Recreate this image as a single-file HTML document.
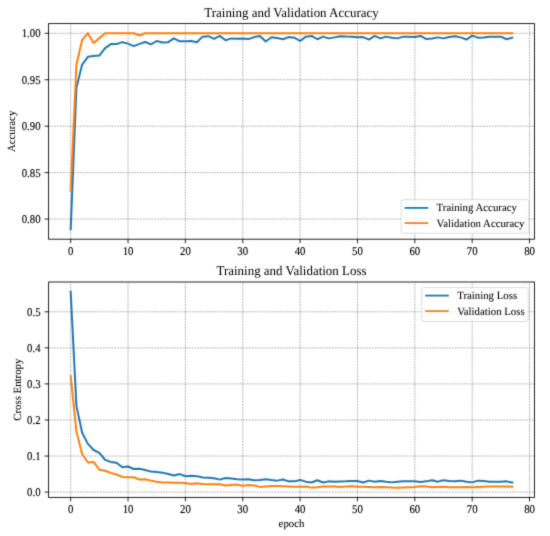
<!DOCTYPE html>
<html><head><meta charset="utf-8"><title>Training and Validation Accuracy and Loss</title>
<style>html,body{margin:0;padding:0;background:#fff;}body{width:550px;height:536px;overflow:hidden;}svg{display:block;}</style>
</head><body>
<svg width="550" height="536" viewBox="0 0 550 536" text-rendering="geometricPrecision"><defs><filter id="soft" x="0" y="0" width="550" height="536" filterUnits="userSpaceOnUse" color-interpolation-filters="sRGB"><feConvolveMatrix order="3" kernelMatrix="0.02 0.09 0.02 0.09 0.56 0.09 0.02 0.09 0.02" edgeMode="duplicate"/></filter></defs><g filter="url(#soft)"><rect width="550" height="536" fill="#fff"/><g stroke="#6c6c6c" stroke-width="0.54" stroke-dasharray="1.8 1.06"><line x1="70.68" y1="239.2" x2="70.68" y2="23.6"/><line x1="128.04" y1="239.2" x2="128.04" y2="23.6"/><line x1="185.39" y1="239.2" x2="185.39" y2="23.6"/><line x1="242.75" y1="239.2" x2="242.75" y2="23.6"/><line x1="300.10" y1="239.2" x2="300.10" y2="23.6"/><line x1="357.45" y1="239.2" x2="357.45" y2="23.6"/><line x1="414.81" y1="239.2" x2="414.81" y2="23.6"/><line x1="472.17" y1="239.2" x2="472.17" y2="23.6"/><line x1="529.52" y1="239.2" x2="529.52" y2="23.6"/><line x1="48.6" y1="219.05" x2="534.4" y2="219.05"/><line x1="48.6" y1="172.61" x2="534.4" y2="172.61"/><line x1="48.6" y1="126.17" x2="534.4" y2="126.17"/><line x1="48.6" y1="79.74" x2="534.4" y2="79.74"/><line x1="48.6" y1="33.30" x2="534.4" y2="33.30"/></g>
<polyline points="70.68,229.40 76.42,87.69 82.15,64.55 87.89,56.79 93.62,56.04 99.36,55.60 105.09,48.13 110.83,44.10 116.56,44.10 122.30,42.16 128.04,43.62 133.77,46.09 139.51,43.91 145.24,42.02 150.98,44.35 156.71,41.00 162.45,42.45 168.18,42.16 173.92,38.38 179.65,41.29 185.39,41.29 191.13,41.00 196.86,42.16 202.60,36.64 208.33,36.20 214.07,38.82 219.80,35.91 225.54,40.27 231.27,38.38 237.01,38.82 242.75,38.53 248.48,39.11 254.22,37.07 259.95,35.91 265.69,41.44 271.42,37.22 277.16,38.09 282.89,39.25 288.63,37.07 294.36,37.65 300.10,41.00 305.84,36.64 311.57,35.91 317.31,39.25 323.04,36.64 328.78,38.38 334.51,37.36 340.25,36.20 345.98,36.49 351.72,36.64 357.45,37.36 363.19,37.07 368.93,39.55 374.66,35.91 380.40,38.38 386.13,36.64 391.87,37.65 397.60,38.38 403.34,36.64 409.07,36.64 414.81,37.07 420.55,35.91 426.28,39.11 432.02,38.53 437.75,37.36 443.49,38.38 449.22,36.93 454.96,36.20 460.69,37.36 466.43,39.55 472.17,35.62 477.90,37.65 483.64,37.51 489.37,36.64 495.11,36.64 500.84,36.64 506.58,39.25 512.31,37.65" fill="none" stroke="#1f77b4" stroke-width="2.0" stroke-linejoin="round" stroke-linecap="square"/>
<polyline points="70.68,190.70 76.42,64.55 82.15,39.93 87.89,33.21 93.62,42.91 99.36,38.13 105.09,33.30 110.83,33.30 116.56,33.30 122.30,33.30 128.04,33.30 133.77,33.30 139.51,35.50 145.24,33.30 150.98,33.30 156.71,33.30 162.45,33.30 168.18,33.30 173.92,33.30 179.65,33.30 185.39,33.30 191.13,33.30 196.86,33.30 202.60,33.30 208.33,33.30 214.07,33.30 219.80,33.30 225.54,33.30 231.27,33.30 237.01,33.30 242.75,33.30 248.48,33.30 254.22,33.30 259.95,33.30 265.69,33.30 271.42,33.30 277.16,33.30 282.89,33.30 288.63,33.30 294.36,33.30 300.10,33.30 305.84,33.30 311.57,33.30 317.31,33.30 323.04,33.30 328.78,33.30 334.51,33.30 340.25,33.30 345.98,33.30 351.72,33.30 357.45,33.30 363.19,33.30 368.93,33.30 374.66,33.30 380.40,33.30 386.13,33.30 391.87,33.30 397.60,33.30 403.34,33.30 409.07,33.30 414.81,33.30 420.55,33.30 426.28,33.30 432.02,33.30 437.75,33.30 443.49,33.30 449.22,33.30 454.96,33.30 460.69,33.30 466.43,33.30 472.17,33.30 477.90,33.30 483.64,33.30 489.37,33.30 495.11,33.30 500.84,33.30 506.58,33.30 512.31,33.30" fill="none" stroke="#ff7f0e" stroke-width="2.0" stroke-linejoin="round" stroke-linecap="square"/>
<rect x="401.2" y="199.6" width="127.59999999999997" height="33.599999999999994" rx="2.2" ry="2.2" fill="#fff" fill-opacity="0.8" stroke="#cccccc" stroke-opacity="0.8" stroke-width="0.86"/>
<line x1="405.50" y1="207.9" x2="427.30" y2="207.9" stroke="#1f77b4" stroke-width="1.8" stroke-linecap="square"/>
<text transform="translate(436.60,211.40) scale(1,1.02)" style="font-family:'Liberation Serif','Times New Roman',serif;font-size:10.8px" stroke="#000" stroke-width="0.05">Training Accuracy</text>
<line x1="405.50" y1="223.1" x2="427.30" y2="223.1" stroke="#ff7f0e" stroke-width="1.8" stroke-linecap="square"/>
<text transform="translate(436.60,226.60) scale(1,1.02)" style="font-family:'Liberation Serif','Times New Roman',serif;font-size:10.8px" stroke="#000" stroke-width="0.05">Validation Accuracy</text>
<rect x="48.6" y="23.6" width="485.80" height="215.60" fill="none" stroke="#000" stroke-width="0.86"/>
<g stroke="#000" stroke-width="0.86"><line x1="70.68" y1="239.2" x2="70.68" y2="243.20"/><line x1="128.04" y1="239.2" x2="128.04" y2="243.20"/><line x1="185.39" y1="239.2" x2="185.39" y2="243.20"/><line x1="242.75" y1="239.2" x2="242.75" y2="243.20"/><line x1="300.10" y1="239.2" x2="300.10" y2="243.20"/><line x1="357.45" y1="239.2" x2="357.45" y2="243.20"/><line x1="414.81" y1="239.2" x2="414.81" y2="243.20"/><line x1="472.17" y1="239.2" x2="472.17" y2="243.20"/><line x1="529.52" y1="239.2" x2="529.52" y2="243.20"/><line x1="44.60" y1="219.05" x2="48.6" y2="219.05"/><line x1="44.60" y1="172.61" x2="48.6" y2="172.61"/><line x1="44.60" y1="126.17" x2="48.6" y2="126.17"/><line x1="44.60" y1="79.74" x2="48.6" y2="79.74"/><line x1="44.60" y1="33.30" x2="48.6" y2="33.30"/></g>
<g fill="#000"><text transform="translate(70.68,254.50) scale(1,1.1)" text-anchor="middle" style="font-family:'Liberation Serif','Times New Roman',serif;font-size:10.8px" stroke="#000" stroke-width="0.12">0</text><text transform="translate(128.04,254.50) scale(1,1.1)" text-anchor="middle" style="font-family:'Liberation Serif','Times New Roman',serif;font-size:10.8px" stroke="#000" stroke-width="0.12">10</text><text transform="translate(185.39,254.50) scale(1,1.1)" text-anchor="middle" style="font-family:'Liberation Serif','Times New Roman',serif;font-size:10.8px" stroke="#000" stroke-width="0.12">20</text><text transform="translate(242.75,254.50) scale(1,1.1)" text-anchor="middle" style="font-family:'Liberation Serif','Times New Roman',serif;font-size:10.8px" stroke="#000" stroke-width="0.12">30</text><text transform="translate(300.10,254.50) scale(1,1.1)" text-anchor="middle" style="font-family:'Liberation Serif','Times New Roman',serif;font-size:10.8px" stroke="#000" stroke-width="0.12">40</text><text transform="translate(357.45,254.50) scale(1,1.1)" text-anchor="middle" style="font-family:'Liberation Serif','Times New Roman',serif;font-size:10.8px" stroke="#000" stroke-width="0.12">50</text><text transform="translate(414.81,254.50) scale(1,1.1)" text-anchor="middle" style="font-family:'Liberation Serif','Times New Roman',serif;font-size:10.8px" stroke="#000" stroke-width="0.12">60</text><text transform="translate(472.17,254.50) scale(1,1.1)" text-anchor="middle" style="font-family:'Liberation Serif','Times New Roman',serif;font-size:10.8px" stroke="#000" stroke-width="0.12">70</text><text transform="translate(529.52,254.50) scale(1,1.1)" text-anchor="middle" style="font-family:'Liberation Serif','Times New Roman',serif;font-size:10.8px" stroke="#000" stroke-width="0.12">80</text><text transform="translate(40.54,222.95) scale(1,1.1)" text-anchor="end" style="font-family:'Liberation Serif','Times New Roman',serif;font-size:10.8px" stroke="#000" stroke-width="0.12">0.80</text><text transform="translate(40.54,176.51) scale(1,1.1)" text-anchor="end" style="font-family:'Liberation Serif','Times New Roman',serif;font-size:10.8px" stroke="#000" stroke-width="0.12">0.85</text><text transform="translate(40.54,130.07) scale(1,1.1)" text-anchor="end" style="font-family:'Liberation Serif','Times New Roman',serif;font-size:10.8px" stroke="#000" stroke-width="0.12">0.90</text><text transform="translate(40.54,83.64) scale(1,1.1)" text-anchor="end" style="font-family:'Liberation Serif','Times New Roman',serif;font-size:10.8px" stroke="#000" stroke-width="0.12">0.95</text><text transform="translate(40.54,37.20) scale(1,1.1)" text-anchor="end" style="font-family:'Liberation Serif','Times New Roman',serif;font-size:10.8px" stroke="#000" stroke-width="0.12">1.00</text></g>
<text transform="translate(291.50,16.90) scale(1,1.02)" text-anchor="middle" style="font-family:'Liberation Serif','Times New Roman',serif;font-size:12.96px" stroke="#000" stroke-width="0">Training and Validation Accuracy</text>
<text transform="translate(14.90,131.40) rotate(-90) scale(1,1.02)" text-anchor="middle" style="font-family:'Liberation Serif','Times New Roman',serif;font-size:10.8px" stroke="#000" stroke-width="0.05">Accuracy</text>
<g stroke="#6c6c6c" stroke-width="0.54" stroke-dasharray="1.8 1.06"><line x1="70.68" y1="497.4" x2="70.68" y2="282.0"/><line x1="128.04" y1="497.4" x2="128.04" y2="282.0"/><line x1="185.39" y1="497.4" x2="185.39" y2="282.0"/><line x1="242.75" y1="497.4" x2="242.75" y2="282.0"/><line x1="300.10" y1="497.4" x2="300.10" y2="282.0"/><line x1="357.45" y1="497.4" x2="357.45" y2="282.0"/><line x1="414.81" y1="497.4" x2="414.81" y2="282.0"/><line x1="472.17" y1="497.4" x2="472.17" y2="282.0"/><line x1="529.52" y1="497.4" x2="529.52" y2="282.0"/><line x1="48.6" y1="492.10" x2="534.4" y2="492.10"/><line x1="48.6" y1="456.04" x2="534.4" y2="456.04"/><line x1="48.6" y1="419.98" x2="534.4" y2="419.98"/><line x1="48.6" y1="383.92" x2="534.4" y2="383.92"/><line x1="48.6" y1="347.86" x2="534.4" y2="347.86"/><line x1="48.6" y1="311.80" x2="534.4" y2="311.80"/></g>
<polyline points="70.68,291.80 76.42,405.90 82.15,432.80 87.89,443.90 93.62,450.00 99.36,452.90 105.09,459.90 110.83,461.90 116.56,462.80 122.30,467.30 128.04,466.53 133.77,469.00 139.51,468.71 145.24,470.02 150.98,471.62 156.71,472.05 162.45,472.64 168.18,474.09 173.92,475.55 179.65,474.09 185.39,476.27 191.13,475.84 196.86,476.13 202.60,477.44 208.33,477.73 214.07,478.16 219.80,479.62 225.54,478.02 231.27,478.45 237.01,479.33 242.75,479.62 248.48,479.33 254.22,480.35 259.95,479.91 265.69,479.18 271.42,480.05 277.16,480.64 282.89,479.47 288.63,481.36 294.36,481.36 300.10,479.91 305.84,481.65 311.57,482.53 317.31,480.20 323.04,482.53 328.78,481.36 334.51,481.65 340.25,481.51 345.98,481.36 351.72,481.07 357.45,481.07 363.19,482.53 368.93,480.64 374.66,481.80 380.40,480.93 386.13,481.80 391.87,482.38 397.60,481.80 403.34,481.36 409.07,481.22 414.81,481.36 420.55,482.09 426.28,481.36 432.02,480.35 437.75,481.65 443.49,480.20 449.22,481.07 454.96,481.36 460.69,480.64 466.43,481.80 472.17,482.38 477.90,480.64 483.64,481.07 489.37,481.80 495.11,481.65 500.84,481.65 506.58,481.36 512.31,482.53" fill="none" stroke="#1f77b4" stroke-width="2.0" stroke-linejoin="round" stroke-linecap="square"/>
<polyline points="70.68,376.00 76.42,431.60 82.15,454.00 87.89,462.50 93.62,461.90 99.36,469.70 105.09,470.70 110.83,472.90 116.56,474.50 122.30,476.90 128.04,477.29 133.77,477.29 139.51,479.62 145.24,479.18 150.98,480.64 156.71,481.80 162.45,482.38 168.18,482.38 173.92,482.82 179.65,482.82 185.39,483.11 191.13,483.98 196.86,483.25 202.60,483.98 208.33,484.13 214.07,484.27 219.80,484.27 225.54,485.44 231.27,485.00 237.01,484.56 242.75,485.73 248.48,485.00 254.22,485.44 259.95,486.89 265.69,486.45 271.42,486.02 277.16,486.02 282.89,486.16 288.63,486.45 294.36,486.75 300.10,486.75 305.84,486.45 311.57,487.62 317.31,487.18 323.04,486.45 328.78,486.45 334.51,486.45 340.25,486.89 345.98,486.60 351.72,486.16 357.45,486.75 363.19,486.75 368.93,486.89 374.66,487.18 380.40,486.89 386.13,487.18 391.87,487.62 397.60,487.76 403.34,487.47 409.07,487.18 414.81,487.04 420.55,486.31 426.28,486.60 432.02,487.18 437.75,486.89 443.49,486.75 449.22,487.18 454.96,487.33 460.69,487.18 466.43,487.04 472.17,487.18 477.90,486.89 483.64,486.75 489.37,486.60 495.11,486.45 500.84,486.45 506.58,486.45 512.31,486.60" fill="none" stroke="#ff7f0e" stroke-width="2.0" stroke-linejoin="round" stroke-linecap="square"/>
<rect x="421.8" y="287.6" width="106.40000000000003" height="33.89999999999998" rx="2.2" ry="2.2" fill="#fff" fill-opacity="0.8" stroke="#cccccc" stroke-opacity="0.8" stroke-width="0.86"/>
<line x1="426.10" y1="295.6" x2="447.90" y2="295.6" stroke="#1f77b4" stroke-width="1.8" stroke-linecap="square"/>
<text transform="translate(457.20,299.30) scale(1,1.02)" style="font-family:'Liberation Serif','Times New Roman',serif;font-size:10.8px" stroke="#000" stroke-width="0.05">Training Loss</text>
<line x1="426.10" y1="311.1" x2="447.90" y2="311.1" stroke="#ff7f0e" stroke-width="1.8" stroke-linecap="square"/>
<text transform="translate(457.20,314.50) scale(1,1.02)" style="font-family:'Liberation Serif','Times New Roman',serif;font-size:10.8px" stroke="#000" stroke-width="0.05">Validation Loss</text>
<rect x="48.6" y="282.0" width="485.80" height="215.40" fill="none" stroke="#000" stroke-width="0.86"/>
<g stroke="#000" stroke-width="0.86"><line x1="70.68" y1="497.4" x2="70.68" y2="501.40"/><line x1="128.04" y1="497.4" x2="128.04" y2="501.40"/><line x1="185.39" y1="497.4" x2="185.39" y2="501.40"/><line x1="242.75" y1="497.4" x2="242.75" y2="501.40"/><line x1="300.10" y1="497.4" x2="300.10" y2="501.40"/><line x1="357.45" y1="497.4" x2="357.45" y2="501.40"/><line x1="414.81" y1="497.4" x2="414.81" y2="501.40"/><line x1="472.17" y1="497.4" x2="472.17" y2="501.40"/><line x1="529.52" y1="497.4" x2="529.52" y2="501.40"/><line x1="44.60" y1="492.10" x2="48.6" y2="492.10"/><line x1="44.60" y1="456.04" x2="48.6" y2="456.04"/><line x1="44.60" y1="419.98" x2="48.6" y2="419.98"/><line x1="44.60" y1="383.92" x2="48.6" y2="383.92"/><line x1="44.60" y1="347.86" x2="48.6" y2="347.86"/><line x1="44.60" y1="311.80" x2="48.6" y2="311.80"/></g>
<g fill="#000"><text transform="translate(70.68,512.80) scale(1,1.1)" text-anchor="middle" style="font-family:'Liberation Serif','Times New Roman',serif;font-size:10.8px" stroke="#000" stroke-width="0.12">0</text><text transform="translate(128.04,512.80) scale(1,1.1)" text-anchor="middle" style="font-family:'Liberation Serif','Times New Roman',serif;font-size:10.8px" stroke="#000" stroke-width="0.12">10</text><text transform="translate(185.39,512.80) scale(1,1.1)" text-anchor="middle" style="font-family:'Liberation Serif','Times New Roman',serif;font-size:10.8px" stroke="#000" stroke-width="0.12">20</text><text transform="translate(242.75,512.80) scale(1,1.1)" text-anchor="middle" style="font-family:'Liberation Serif','Times New Roman',serif;font-size:10.8px" stroke="#000" stroke-width="0.12">30</text><text transform="translate(300.10,512.80) scale(1,1.1)" text-anchor="middle" style="font-family:'Liberation Serif','Times New Roman',serif;font-size:10.8px" stroke="#000" stroke-width="0.12">40</text><text transform="translate(357.45,512.80) scale(1,1.1)" text-anchor="middle" style="font-family:'Liberation Serif','Times New Roman',serif;font-size:10.8px" stroke="#000" stroke-width="0.12">50</text><text transform="translate(414.81,512.80) scale(1,1.1)" text-anchor="middle" style="font-family:'Liberation Serif','Times New Roman',serif;font-size:10.8px" stroke="#000" stroke-width="0.12">60</text><text transform="translate(472.17,512.80) scale(1,1.1)" text-anchor="middle" style="font-family:'Liberation Serif','Times New Roman',serif;font-size:10.8px" stroke="#000" stroke-width="0.12">70</text><text transform="translate(529.52,512.80) scale(1,1.1)" text-anchor="middle" style="font-family:'Liberation Serif','Times New Roman',serif;font-size:10.8px" stroke="#000" stroke-width="0.12">80</text><text transform="translate(40.54,496.00) scale(1,1.1)" text-anchor="end" style="font-family:'Liberation Serif','Times New Roman',serif;font-size:10.8px" stroke="#000" stroke-width="0.12">0.0</text><text transform="translate(40.54,459.94) scale(1,1.1)" text-anchor="end" style="font-family:'Liberation Serif','Times New Roman',serif;font-size:10.8px" stroke="#000" stroke-width="0.12">0.1</text><text transform="translate(40.54,423.88) scale(1,1.1)" text-anchor="end" style="font-family:'Liberation Serif','Times New Roman',serif;font-size:10.8px" stroke="#000" stroke-width="0.12">0.2</text><text transform="translate(40.54,387.82) scale(1,1.1)" text-anchor="end" style="font-family:'Liberation Serif','Times New Roman',serif;font-size:10.8px" stroke="#000" stroke-width="0.12">0.3</text><text transform="translate(40.54,351.76) scale(1,1.1)" text-anchor="end" style="font-family:'Liberation Serif','Times New Roman',serif;font-size:10.8px" stroke="#000" stroke-width="0.12">0.4</text><text transform="translate(40.54,315.70) scale(1,1.1)" text-anchor="end" style="font-family:'Liberation Serif','Times New Roman',serif;font-size:10.8px" stroke="#000" stroke-width="0.12">0.5</text></g>
<text transform="translate(291.50,275.40) scale(1,1.02)" text-anchor="middle" style="font-family:'Liberation Serif','Times New Roman',serif;font-size:12.96px" stroke="#000" stroke-width="0">Training and Validation Loss</text>
<text transform="translate(20.50,389.70) rotate(-90) scale(1,1.02)" text-anchor="middle" style="font-family:'Liberation Serif','Times New Roman',serif;font-size:10.8px" stroke="#000" stroke-width="0.05">Cross Entropy</text>
<text transform="translate(291.50,526.90) scale(1,1.02)" text-anchor="middle" style="font-family:'Liberation Serif','Times New Roman',serif;font-size:10.8px" stroke="#000" stroke-width="0.05">epoch</text></g></svg>
</body></html>
